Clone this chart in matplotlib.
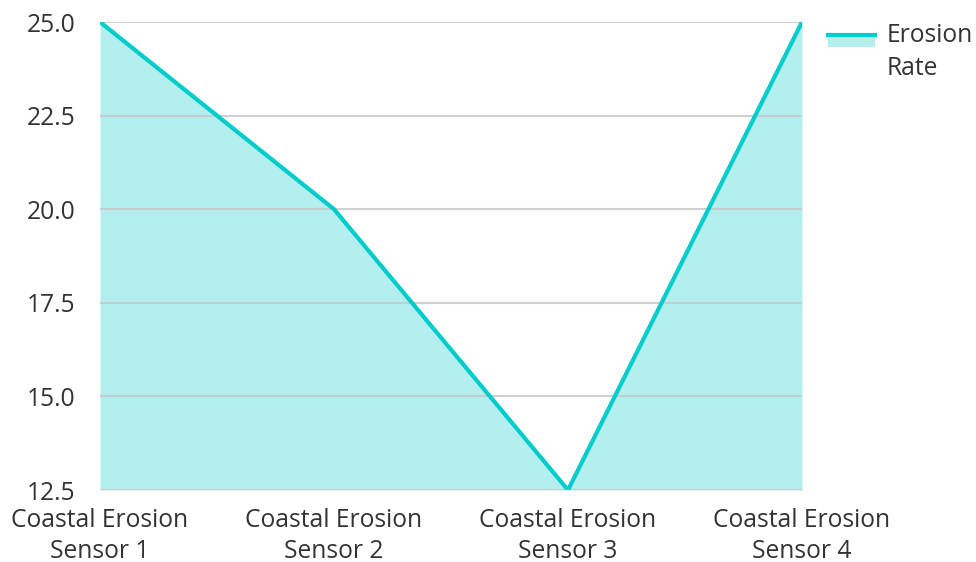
import matplotlib.pyplot as plt
from matplotlib.lines import Line2D
from matplotlib.patches import Rectangle

plt.rcParams['font.family'] = ['Open Sans', 'DejaVu Sans']

sensors = ['Coastal Erosion\nSensor 1', 'Coastal Erosion\nSensor 2',
           'Coastal Erosion\nSensor 3', 'Coastal Erosion\nSensor 4']
erosion_rate = [25, 20, 12.5, 25]
yticks = [12.5, 15.0, 17.5, 20.0, 22.5, 25.0]

line_col = '#00cccc'
fill_col = '#b2efee'
txt_col = '#333333'
fs = 17.7

fig = plt.figure(figsize=(9.76, 5.62), dpi=100)
ax = fig.add_axes([100/976, 1 - 490/562, 702/976, 468/562])

x = list(range(len(sensors)))
ax.fill_between(x, erosion_rate, 12.5, color=fill_col, lw=0, zorder=1)
ax.plot(x, erosion_rate, color=line_col, lw=3, solid_joinstyle='round', zorder=3)

ax.set_xlim(0, len(sensors) - 1)
ax.set_ylim(12.5, 25)
ax.set_yticks(yticks)
ax.set_yticklabels([f'{v:.1f}' for v in yticks])
ax.set_xticks(x)
ax.set_xticklabels(sensors, linespacing=1.33)
ax.grid(axis='y', color='#c8c8c8', lw=1.5, alpha=0.85, zorder=2)
ax.set_axisbelow(False)
for s in ax.spines.values():
    s.set_visible(False)
ax.tick_params(axis='both', length=0, labelsize=fs, colors=txt_col)
ax.tick_params(axis='x', pad=13)
ax.tick_params(axis='y', pad=17.5)

# legend drawn by hand at the upper right
fig.patches.append(Rectangle((828/976, 1 - 47/562), 47/976, 13/562,
                             transform=fig.transFigure, color=fill_col, lw=0))
fig.lines.append(Line2D([828/976, 875/976], [1 - 35/562, 1 - 35/562],
                        transform=fig.transFigure, color=line_col, lw=3))
fig.text(887/976, 1 - 36/562, 'Erosion', fontsize=fs, color=txt_col, va='center')
fig.text(887/976, 1 - 68/562, 'Rate', fontsize=fs, color=txt_col, va='center')

fig.savefig('out.png', dpi=100, facecolor='white')
